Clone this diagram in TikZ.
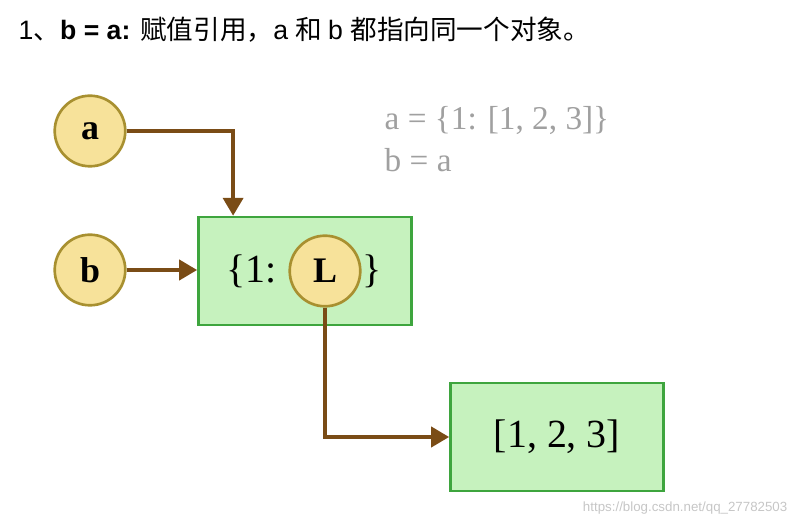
\documentclass[tikz,border=0pt]{standalone}
\usepackage{fontspec}
\setsansfont{Liberation Sans}
\newfontfamily\cjk{Noto Sans CJK SC}
\newfontfamily\dser{Liberation Serif}
\usetikzlibrary{arrows.meta}
\definecolor{circfill}{HTML}{F7E29A}
\definecolor{circline}{HTML}{A89030}
\definecolor{boxfill}{HTML}{C6F2BE}
\definecolor{boxline}{HTML}{3EA53E}
\definecolor{arr}{HTML}{7A4C16}
\definecolor{txtgray}{HTML}{A0A0A0}
\tikzset{
 ref/.style={circle,draw=circline,fill=circfill,line width=2pt,minimum size=53pt,inner sep=0pt,font=\dser\fontsize{27}{27}\selectfont\bfseries},
 objbox/.style={draw=boxline,fill=boxfill,line width=2pt,minimum width=160pt,minimum height=81pt,font=\dser\fontsize{30}{30}\selectfont},
 conn/.style={draw=arr,line width=3pt,-{Triangle[length=13.5pt,width=15pt]}}
}
\begin{document}
\begin{tikzpicture}[x=0.0264cm,y=-0.0264cm]
\useasboundingbox (0,0) rectangle (796,526);
\node[anchor=west,font=\fontsize{20}{20}\selectfont] (title) at (14,30) {\sffamily 1\cjk、\sffamily\textbf{b = a:} \cjk 赋值引用，\sffamily a \cjk 和 \sffamily b \cjk 都指向同一个对象。};
\node[objbox] (box1) at (305,271) {};
\node[anchor=west,font=\dser\fontsize{30}{30}\selectfont] (t1) at (222,271) {\{1:};
\node[anchor=west,font=\dser\fontsize{30}{30}\selectfont] (t2) at (358,271) {\}};
\node[objbox] (box2) at (557,437) {[1, 2, 3]};
\node[ref] (a) at (90,131) {a};
\node[ref] (b) at (90,270) {b};
\node[ref] (L) at (325,271) {L};
\draw[conn] (a.east) -| ([xshift=27pt]box1.north west);
\draw[conn] (b.east) -- (box1.west |- b);
\draw[conn] (L.south) |- (box2.west);
\node[anchor=west,text=txtgray,font=\dser\fontsize{25}{25}\selectfont,align=left] (code) at (380,139) {a = \{1: [1, 2, 3]\}\\[6pt]b = a};
\node[anchor=east,text=txtgray!60,font=\fontsize{10}{10}\selectfont\sffamily] (wm) at (792,508) {https://blog.csdn.net/qq\_27782503};
\end{tikzpicture}
\end{document}
